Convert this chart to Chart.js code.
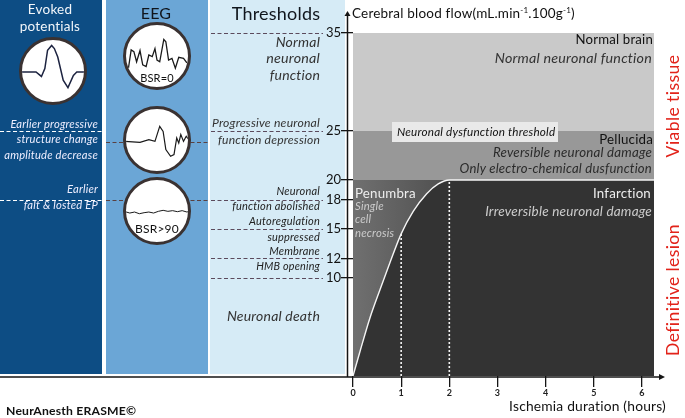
<!DOCTYPE html>
<html><head><meta charset="utf-8">
<script src="https://cdn.jsdelivr.net/npm/chart.js@4"></script>
<style>
html,body{margin:0;padding:0;background:#fff;width:685px;height:418px;overflow:hidden;font-family:Lato,sans-serif}
.p{position:absolute;top:0;height:374px}
#main{position:absolute;left:0;top:0}
.c{position:absolute;width:62px;height:62px;border:3px solid #3a3232;border-radius:50%;background:#fff;overflow:hidden}
.c canvas{position:absolute;left:-3px;top:-3px}
.t{position:absolute;white-space:nowrap;transform:translateY(-50%);line-height:1;letter-spacing:.2px}
.i{font-style:italic}
.r{transform:translate(-50%,-50%) rotate(-90deg);color:#e2231a;font-size:17.6px;letter-spacing:.4px}
sup{font-size:8px;line-height:0;vertical-align:5px}
</style></head><body>
<div class="p" style="left:0;width:102px;background:#0d4d84"></div>
<div class="p" style="left:106px;width:102px;background:#6ba6d6"></div>
<div class="p" style="left:210px;width:135px;background:#d6ebf6"></div>
<canvas id="main" width="685" height="418"></canvas>
<div class="c" style="left:19px;top:37px"><canvas id="ep" width="68" height="68"></canvas></div>
<div class="c" style="left:123px;top:22px"><canvas id="e1" width="68" height="68"></canvas></div>
<div class="c" style="left:123px;top:106px"><canvas id="e2" width="68" height="68"></canvas></div>
<div class="c" style="left:123px;top:177px"><canvas id="e3" width="68" height="68"></canvas></div>
<div id="labels"></div>
<script>
// Chart values
const yTickValues = [10, 12, 15, 18, 20, 25, 35];
const xTickValues = [0, 1, 2, 3, 4, 5, 6];
const curveHours = [0, 0.145, 0.35, 0.56, 0.77, 1, 1.25, 1.53, 1.77, 2, 6.25];
const curveFlow = [0, 2.5, 5.9, 8.8, 11.6, 14.5, 16.8, 18.6, 19.6, 20, 20];
const normalBandHours = [0, 6.25];
const normalBandFlow = [35, 35];
const pellucidaBandFlow = [25, 25];
const penumbraHours = [0, 2];
const penumbraFlow = [20, 20];
const dotted1Hours = [1, 1];
const dotted1Flow = [0, 14.5];
const dotted2Hours = [2, 2];
const dotted2Flow = [0, 20];
const thresholdLevels = [35, 25, 18, 15, 12, 10];
// Illustration waveforms (0-100 across circle, -100..100 vertically)
const epX = [3, 25, 33, 38, 42, 48, 52, 57, 65, 72, 80, 85, 99];
const epY = [-3, -3, -16, 7, 61, 75, 66, 41, -27, -49, -13, -3, -3];
const eeg1X = [8, 12, 16, 20, 25, 29, 34, 38, 43, 47, 50, 54, 60, 63, 67, 72, 77, 82, 89, 94];
const eeg1Y = [-36, 18, 13, -17, 16, -26, -31, 3, -2, 22, -12, -17, 49, 42, -12, -7, -36, -4, -7, -20];
const eeg2X = [3, 25, 38, 47, 54, 59, 63, 70, 75, 79, 82, 85, 89, 93, 97];
const eeg2Y = [-4, -7, 1, -4, 40, 25, -28, -48, -43, 6, -9, 16, -4, 11, 1];
const eeg3X = [3, 10, 17, 24, 31, 38, 45, 52, 59, 66, 73, 80, 87, 94, 98];
const eeg3Y = [-2, -6, -3, -8, -5, -3, -6, -1, 2, -1, 1, -2, 1, -3, -1];

const zip = (xs, ys) => xs.map((x, i) => ({x, y: ys[i]}));
const FONT = 'Lato, sans-serif';

const penumbraFill = c => {
  const a = c.chart.chartArea;
  if (!a) return '#666';
  const g = c.chart.ctx.createLinearGradient(a.left, 0, a.left + 97, 0);
  g.addColorStop(0, '#707070');
  g.addColorStop(1, '#4e4e4e');
  return g;
};

const base = {pointRadius: 0, pointHoverRadius: 0, tension: 0};
const frame = {
  id: 'frame',
  beforeDatasetsDraw(chart) {
    const {ctx, scales: {y}} = chart;
    ctx.save();
    // threshold dashes across the side panels
    ctx.lineWidth = 1;
    ctx.setLineDash([4, 2.5]);
    ctx.strokeStyle = '#5b4a5c';
    thresholdLevels.forEach(v => {
      const p = Math.round(y.getPixelForValue(v)) + .5;
      ctx.beginPath(); ctx.moveTo(211, p); ctx.lineTo(323, p); ctx.stroke();
    });
    ctx.strokeStyle = '#ffffff';
    [25, 18].forEach(v => {
      const p = Math.round(y.getPixelForValue(v)) + .5;
      ctx.beginPath(); ctx.moveTo(0, p); ctx.lineTo(102, p); ctx.stroke();
    });
    ctx.strokeStyle = '#5a4040';
    [142, Math.round(y.getPixelForValue(18))].forEach(v => {
      const p = v + .5;
      ctx.beginPath(); ctx.moveTo(106, p); ctx.lineTo(208, p); ctx.stroke();
    });
    ctx.restore();
  },
  afterDraw(chart) {
    const {ctx, chartArea: a} = chart;
    ctx.save();
    ctx.strokeStyle = '#151515';
    ctx.fillStyle = '#151515';
    ctx.lineWidth = 1.5;
    // vertical axis with arrow
    ctx.beginPath(); ctx.moveTo(347.5, a.bottom + 1); ctx.lineTo(347.5, 15); ctx.stroke();
    ctx.beginPath(); ctx.moveTo(347.5, 11); ctx.lineTo(344.5, 16); ctx.lineTo(350.5, 16); ctx.closePath(); ctx.fill();
    // horizontal axis with arrow
    ctx.beginPath(); ctx.moveTo(0, a.bottom + 1); ctx.lineTo(660, a.bottom + 1); ctx.stroke();
    ctx.beginPath(); ctx.moveTo(665, a.bottom + 1); ctx.lineTo(659, a.bottom - 2); ctx.lineTo(659, a.bottom + 4); ctx.closePath(); ctx.fill();
    // threshold label box
    ctx.fillStyle = '#e9e9e9';
    ctx.fillRect(392, 122, 166, 20);
    ctx.restore();
  }
};

new Chart(document.getElementById('main'), {
  type: 'line',
  data: {datasets: [
    {...base, data: zip(dotted1Hours, dotted1Flow), borderColor: '#f5f5f5', borderWidth: 1.6, borderDash: [2, 2], fill: false},
    {...base, data: zip(dotted2Hours, dotted2Flow), borderColor: '#f5f5f5', borderWidth: 1.6, borderDash: [2, 2], fill: false},
    {...base, data: zip(curveHours, curveFlow), cubicInterpolationMode: 'monotone', borderColor: '#f5f5f5', borderWidth: 1.4, backgroundColor: '#333333', fill: 'origin'},
    {...base, data: zip(penumbraHours, penumbraFlow), borderWidth: 0, borderColor: 'transparent', backgroundColor: penumbraFill, fill: 'origin'},
    {...base, data: zip(normalBandHours, pellucidaBandFlow), borderWidth: 0, borderColor: 'transparent', backgroundColor: '#989898', fill: 'origin'},
    {...base, data: zip(normalBandHours, normalBandFlow), borderWidth: 0, borderColor: 'transparent', backgroundColor: '#c9c9c9', fill: 'origin'}
  ]},
  plugins: [frame],
  options: {
    responsive: false, animation: false, devicePixelRatio: 1,
    layout: {padding: {left: 0, top: 33, right: 31, bottom: 0}},
    plugins: {legend: {display: false}, tooltip: {enabled: false}},
    scales: {
      x: {
        type: 'linear', min: 0, max: 6.25,
        afterBuildTicks: s => { s.ticks = xTickValues.map(value => ({value})); },
        afterFit: s => { s.height = 42; },
        border: {display: false},
        grid: {drawOnChartArea: false, drawTicks: true, tickLength: 11, color: '#151515', lineWidth: 1.3},
        ticks: {padding: 1, maxRotation: 0, autoSkip: false, color: '#222', font: {family: FONT, size: 9, weight: 'bold'}, callback: v => String(v)}
      },
      y: {
        type: 'linear', min: 0, max: 35,
        afterBuildTicks: s => { s.ticks = yTickValues.map(value => ({value})); },
        afterFit: s => { s.width = 353; },
        border: {display: false},
        grid: {drawOnChartArea: false, drawTicks: true, tickLength: 12, color: '#151515', lineWidth: 1.3},
        ticks: {padding: 0, autoSkip: false, color: '#111', font: {family: FONT, size: 13}, callback: v => String(v)}
      }
    }
  }
});

function wave(id, xs, ys, color, width) {
  new Chart(document.getElementById(id), {
    type: 'line',
    data: {datasets: [{data: zip(xs, ys), borderColor: color, borderWidth: width, pointRadius: 0, tension: 0, fill: false}]},
    options: {
      responsive: false, animation: false, devicePixelRatio: 1,
      plugins: {legend: {display: false}, tooltip: {enabled: false}},
      scales: {
        x: {type: 'linear', min: 0, max: 100, display: false},
        y: {type: 'linear', min: -100, max: 100, display: false}
      }
    }
  });
}
wave('ep', epX, epY, '#1c2340', 1.5);
wave('e1', eeg1X, eeg1Y, '#1a1a1a', 1.3);
wave('e2', eeg2X, eeg2Y, '#1a1a1a', 1.2);
wave('e3', eeg3X, eeg3Y, '#1a1a1a', 1);

// Text labels: [text, anchor ('l','r','c'), x, y, size, colour, italic, bold]
const labelsTop = [
  ['Evoked', 'c', 50, 10, 13.5, '#f2f6fa'],
  ['potentials', 'c', 50, 27, 13.5, '#f2f6fa'],
  ['EEG', 'c', 156, 13, 16, '#10151c'],
  ['Thresholds', 'c', 276, 13, 18, '#10151c'],
  ['Normal', 'r', 320, 42, 14, '#333', 1],
  ['neuronal', 'r', 320, 58, 14.3, '#333', 1],
  ['function', 'r', 320, 75, 14, '#333', 1],
  ['Progressive neuronal', 'r', 320, 123, 12.2, '#333', 1],
  ['function depression', 'r', 320, 140, 12.1, '#333', 1],
  ['Neuronal', 'r', 320, 190, 11, '#222', 1],
  ['function abolished', 'r', 320, 205, 11, '#222', 1],
  ['Autoregulation', 'r', 320, 220, 11, '#222', 1],
  ['suppressed', 'r', 320, 236, 11, '#222', 1],
  ['Membrane', 'r', 320, 250, 11, '#222', 1],
  ['HMB opening', 'r', 320, 266, 10.8, '#222', 1],
  ['Neuronal death', 'r', 320, 316, 14, '#333', 1],
  ['Earlier progressive', 'r', 98, 124, 11.2, '#eef', 1],
  ['structure change', 'r', 98, 139, 11.2, '#eef', 1],
  ['amplitude decrease', 'r', 98, 155, 11.2, '#eef', 1],
  ['Earlier', 'r', 98, 189, 11.2, '#eef', 1],
  ['falt & losted EP', 'r', 98, 205, 11.2, '#eef', 1],
  ['BSR=0', 'c', 157, 77, 11, '#111'],
  ['BSR>90', 'c', 157, 229, 12, '#111'],
  ['Normal brain', 'r', 653, 40, 13.2, '#111'],
  ['Normal neuronal function', 'r', 652, 58, 14.3, '#333', 1],
  ['Neuronal dysfunction threshold', 'l', 397, 132, 11.7, '#111', 1],
  ['Pellucida', 'r', 653, 140, 13.3, '#111'],
  ['Reversible neuronal damage', 'r', 652, 153, 13.3, '#2b2b2b', 1],
  ['Only electro-chemical dusfunction', 'r', 652, 169, 13.1, '#2b2b2b', 1],
  ['Infarction', 'r', 651, 194, 13.3, '#eee'],
  ['Irreversible neuronal damage', 'r', 652, 212, 13.5, '#ccc', 1],
  ['Penumbra', 'l', 355, 194, 13.3, '#eee'],
  ['Single', 'l', 355, 206, 11.3, '#ccc', 1],
  ['cell', 'l', 355, 219, 11.3, '#ccc', 1],
  ['necrosis', 'l', 355, 233, 11.3, '#ccc', 1],
  ['Ischemia duration (hours)', 'r', 666, 406, 13.8, '#111'],
  ['NeurAnesth ERASME©', 'l', 6, 411, 12.2, '#111', 0, 1]
];
const host = document.getElementById('labels');
labelsTop.forEach(([text, anchor, x, y, size, color, italic, bold]) => {
  const d = document.createElement('div');
  d.className = 't' + (italic ? ' i' : '');
  d.textContent = text;
  d.style.top = y + 'px';
  d.style.fontSize = size + 'px';
  d.style.color = color;
  if (bold) d.style.fontWeight = '700';
  if (anchor === 'l') d.style.left = x + 'px';
  if (anchor === 'r') d.style.right = (685 - x) + 'px';
  if (anchor === 'c') { d.style.left = x + 'px'; d.style.transform = 'translate(-50%,-50%)'; }
  host.appendChild(d);
});
host.insertAdjacentHTML('beforeend',
  '<div class="t" style="left:352px;top:14px;font-size:13.5px;color:#111">Cerebral blood flow(mL.min<sup>-1</sup>.100g<sup>-1</sup>)</div>' +
  '<div class="t r" style="left:673px;top:106px">Viable tissue</div>' +
  '<div class="t r" style="left:673px;top:290px">Definitive lesion</div>');
</script>
</body></html>
